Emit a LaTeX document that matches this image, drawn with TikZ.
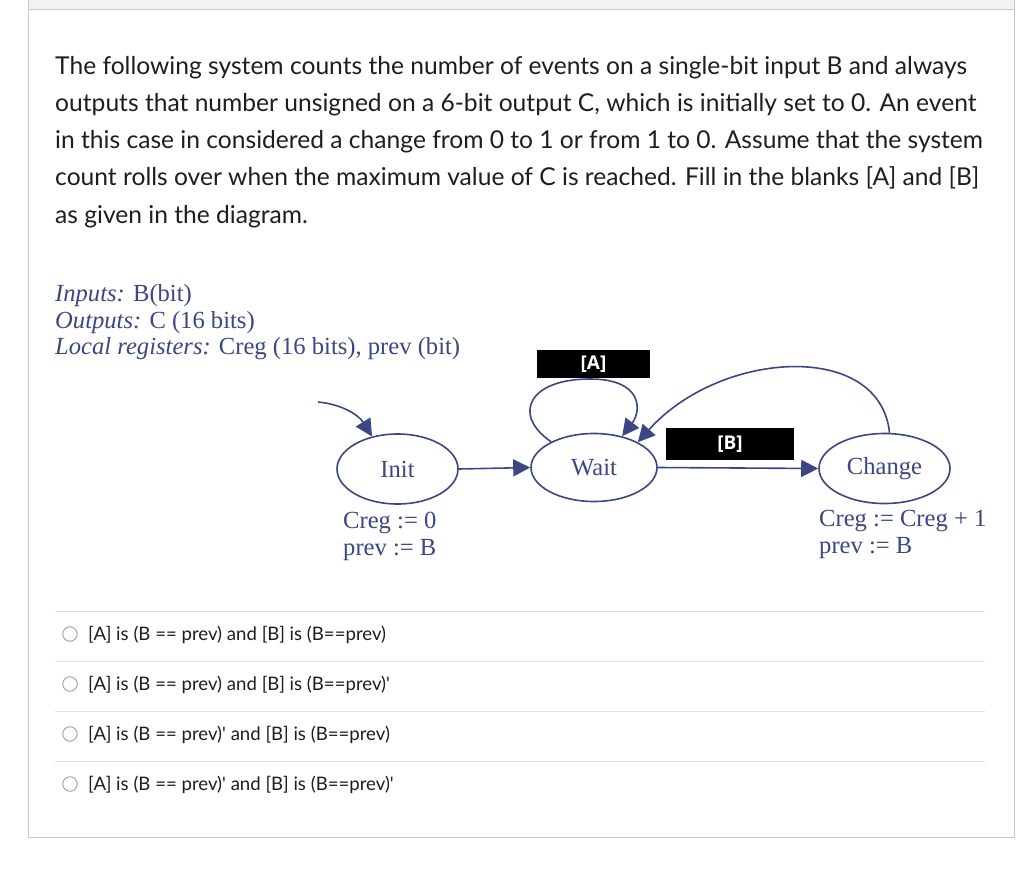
\documentclass[tikz,border=0pt]{standalone}
\usepackage{fontspec}
\setmainfont{Lato}
\newfontfamily\tms{Liberation Serif}
\newfontfamily\osans{Open Sans}
\usetikzlibrary{arrows.meta,shapes.geometric}
\definecolor{dg}{HTML}{3A4784}
\definecolor{frame}{HTML}{C8C8C8}
\definecolor{rule}{HTML}{E0E0E0}
\definecolor{txt}{HTML}{1E1E1E}
\tikzset{
  qline/.style={anchor=base west, inner sep=0pt, text=txt, font=\fontsize{24.6}{28}\selectfont},
  opt/.style={anchor=base west, inner sep=0pt, text=txt, font=\fontsize{18.6}{22}\selectfont},
  dtext/.style={anchor=base west, inner sep=0pt, text=dg, font=\tms\fontsize{24.6}{28}\selectfont},
  state/.style={ellipse, draw=dg, line width=1.6pt, inner sep=0pt, text=dg, font=\tms\fontsize{24.6}{28}\selectfont},
  arr/.style={draw=dg, line width=1.6pt, -{Triangle[length=17pt,width=17pt]}},
  blank/.style={fill=black, text=white, inner sep=0pt, font=\osans\bfseries\fontsize{19}{22}\selectfont},
  radio/.style={circle, draw=gray!70, line width=1pt, minimum size=14.5pt, inner sep=0pt}
}
\begin{document}
\begin{tikzpicture}[x=1pt,y=-1pt]
\useasboundingbox (0,0) rectangle (1024,885);
\fill[white] (0,0) rectangle (1024,885);
\fill[gray!10] (28,0) rectangle (1014,10);
\draw[frame, line width=1pt] (28,0) -- (28,837) -- (1014,837) -- (1014,0);
\draw[frame, line width=1pt] (28,10) -- (1014,10);

\node[qline] (q1) at (55,75) {The following system counts the number of events on a single-bit input B and always};
\node[qline] (q2) at (55,112) {outputs that number unsigned on a 6-bit output C, which is initially set to 0. An event};
\node[qline] (q3) at (55,149) {in this case in considered a change from 0 to 1 or from 1 to 0. Assume that the system};
\node[qline] (q4) at (55,186) {count rolls over when the maximum value of C is reached. Fill in the blanks [A] and [B]};
\node[qline] (q5) at (55,223) {as given in the diagram.};

\node[dtext] (in) at (55,301) {\textit{Inputs:} B(bit)};
\node[dtext] (out) at (55,328) {\textit{Outputs:} C (16 bits)};
\node[dtext] (loc) at (55,354) {\textit{Local registers:} Creg (16 bits), prev (bit)};

\node[state, minimum width=121pt, minimum height=70pt] (init) at (397.5,469) {Init};
\node[state, minimum width=126pt, minimum height=68pt] (wait) at (594,467.5) {Wait};
\node[state, minimum width=131pt, minimum height=70pt] (change) at (884.5,468.5) {Change};

\node[dtext] (ia) at (343,528) {Creg := 0};
\node[dtext] (ib) at (343,555) {prev := B};
\node[dtext] (ca) at (819,526) {Creg := Creg + 1};
\node[dtext] (cb) at (819,553) {prev := B};

\coordinate (start) at (318,402);
\draw[arr] (start) .. controls (340,404) and (358,414) .. (init.128);
\draw[arr] (init.east) -- (wait.west);
\draw[arr] (wait.149) .. controls (512,415) and (528,379) .. (590,379) .. controls (642,379) and (642,410) .. (wait.48);
\draw[arr] (change.82) .. controls (880,340) and (720,350) .. (wait.30);
\draw[arr] (wait.east) -- (change.west);

\node[blank, minimum width=113pt, minimum height=28pt] (A) at (593.5,364) {[A]};
\node[blank, minimum width=128pt, minimum height=32pt] (B) at (730,444) {[B]};

\foreach \y in {611,661,711,761} \draw[rule, line width=1pt] (55,\y) -- (985,\y);
\node[radio] (r1) at (70,634) {};
\node[radio] (r2) at (70,684) {};
\node[radio] (r3) at (70,734) {};
\node[radio] (r4) at (70,784) {};
\node[opt] (o1) at (88,640) {[A] is (B == prev) and [B] is (B==prev)};
\node[opt] (o2) at (88,690) {[A] is (B == prev) and [B] is (B==prev)\textquotesingle};
\node[opt] (o3) at (88,740) {[A] is (B == prev)\textquotesingle{} and [B] is (B==prev)};
\node[opt] (o4) at (88,790) {[A] is (B == prev)\textquotesingle{} and [B] is (B==prev)\textquotesingle};
\end{tikzpicture}
\end{document}
